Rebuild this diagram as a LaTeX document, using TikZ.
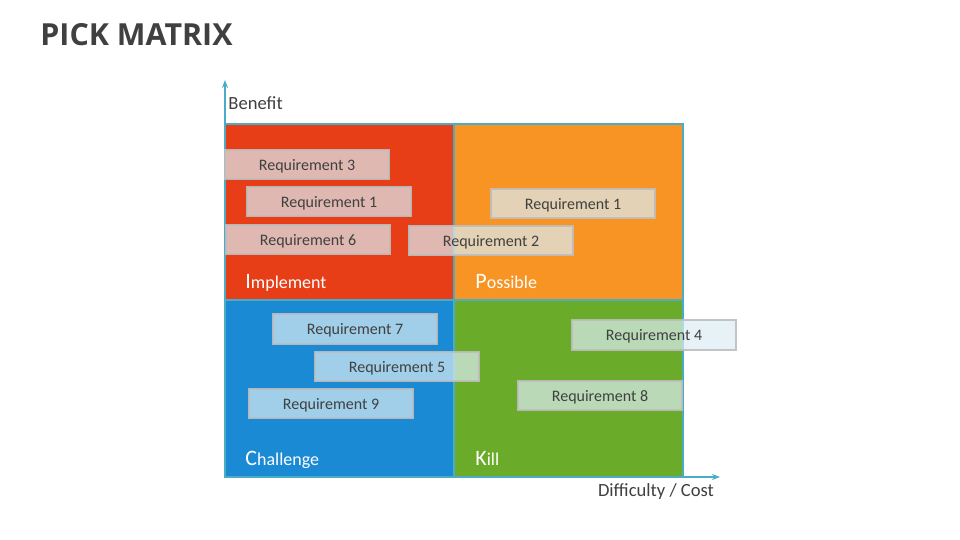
\documentclass[tikz,border=0pt]{standalone}
\usepackage{fontspec}
\setmainfont{Carlito}
\newfontfamily\titlefont{Open Sans}
\usetikzlibrary{arrows.meta}
\definecolor{inkgray}{RGB}{64,64,64}
\definecolor{axisteal}{RGB}{75,172,198}
\definecolor{implred}{RGB}{232,62,23}
\definecolor{possorange}{RGB}{247,148,35}
\definecolor{chalblue}{RGB}{26,138,212}
\definecolor{killgreen}{RGB}{106,171,42}
\definecolor{reqfill}{RGB}{219,237,243}
\definecolor{reqline}{RGB}{190,190,190}
\tikzstyle{quad}   = [rectangle, draw=axisteal, line width=1pt, inner sep=0pt,
                      minimum width=114.5pt, minimum height=88pt]
\tikzstyle{req}    = [rectangle, draw=reqline, line width=1pt, fill=reqfill,
                      fill opacity=0.7, draw opacity=0.9, text opacity=1,
                      minimum width=82pt, minimum height=14.5pt, inner sep=0pt,
                      text height=6.5pt, text depth=0.5pt,
                      text=inkgray, font=\fontsize{8}{9}\selectfont]
\tikzstyle{qlabel} = [anchor=base west, inner sep=0pt, text=white,
                      font=\fontsize{9}{10}\selectfont]
\tikzstyle{axis}   = [draw=axisteal, line width=0.75pt,
                      -{Stealth[length=4pt, width=3pt]}]
\newcommand{\biglet}[1]{{\fontsize{11}{11}\selectfont #1}}

\begin{document}
\begin{tikzpicture}[x=0.5pt, y=-0.5pt]
  \useasboundingbox (0,0) rectangle (960,540);

  %% Title
  \node[anchor=base west, inner sep=0pt, text=inkgray,
        font=\titlefont\fontsize{15.2}{16}\selectfont\bfseries] (title)
      at (40,46) {PICK MATRIX};

  %% ── Quadrants ────────────────────────────────────────────────
  \node[quad, fill=implred]    (impl) at (339.5,212)   {};
  \node[quad, fill=possorange] (poss) at (568.5,212)   {};
  \node[quad, fill=chalblue]   (chal) at (339.5,388.5) {};
  \node[quad, fill=killgreen]  (kill) at (568.5,388.5) {};

  \node[qlabel] (limpl) at (245,289) {\biglet{I}mplement};
  \node[qlabel] (lposs) at (475,289) {\biglet{P}ossible};
  \node[qlabel] (lchal) at (245,465) {\biglet{C}hallenge};
  \node[qlabel] (lkill) at (475,465) {\biglet{K}ill};

  %% ── Axes ─────────────────────────────────────────────────────
  \coordinate (origin) at (225,477);
  \coordinate (ytip)   at (225,80);
  \coordinate (xtip)   at (720,477);
  \draw[axis] (origin) -- (ytip);
  \draw[axis] (origin) -- (xtip);

  \node[anchor=west, inner sep=0pt, text=inkgray,
        font=\fontsize{9.3}{10}\selectfont] (benefit) at (228,103) {Benefit};
  \node[inner sep=0pt, text=inkgray,
        font=\fontsize{9.3}{10}\selectfont] (cost) at (656,492) {Difficulty / Cost};

  %% ── Requirements ─────────────────────────────────────────────
  \node[req] (r3)  at (307,165) {Requirement 3};
  \node[req] (r1a) at (329,202) {Requirement 1};
  \node[req] (r6)  at (308,240) {Requirement 6};
  \node[req] (r2)  at (491,241) {Requirement 2};
  \node[req] (r1b) at (573,204) {Requirement 1};
  \node[req] (r7)  at (355,329) {Requirement 7};
  \node[req] (r5)  at (397,366) {Requirement 5};
  \node[req] (r9)  at (331,403) {Requirement 9};
  \node[req] (r4)  at (654,335) {Requirement 4};
  \node[req] (r8)  at (600,395) {Requirement 8};

\end{tikzpicture}
\end{document}
